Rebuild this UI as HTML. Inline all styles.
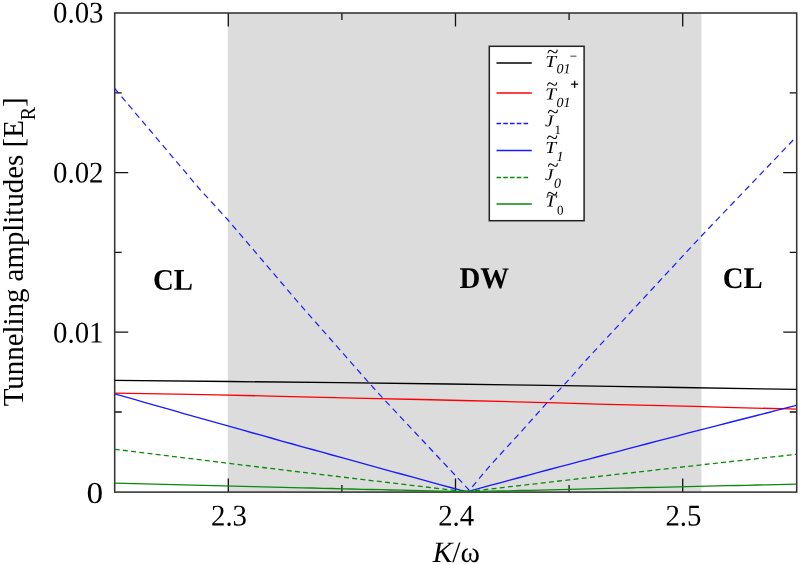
<!DOCTYPE html>
<html lang="en">
<head>
<meta charset="utf-8">
<title>Tunneling amplitudes</title>
<style>
html,body{margin:0;padding:0;background:#fff;}
body{width:800px;height:565px;overflow:hidden;}
svg text{white-space:pre;}
</style>
</head>
<body>
<svg width="800" height="565" viewBox="0 0 800 565" style="display:block">
<rect x="0" y="0" width="800" height="565" fill="#fff"/>
<rect x="227.8" y="13.0" width="473.6" height="479.1" fill="#dcdcdc"/>
<path d="M228.3 492.1 V478.6 M228.3 13.0 V26.5 M455.5 492.1 V478.6 M455.5 13.0 V26.5 M682.7 492.1 V478.6 M682.7 13.0 V26.5 M341.9 492.1 V485.1 M341.9 13.0 V20.0 M569.1 492.1 V485.1 M569.1 13.0 V20.0 M114.7 332.2 H128.2 M796.75 332.2 H783.25 M114.7 172.6 H128.2 M796.75 172.6 H783.25 M114.7 412.0 H121.7 M796.75 412.0 H789.75 M114.7 252.4 H121.7 M796.75 252.4 H789.75 M114.7 92.8 H121.7 M796.75 92.8 H789.75" stroke="#111" stroke-width="1.3" fill="none"/>
<rect x="114.7" y="13.0" width="682.0" height="479.1" fill="none" stroke="#333" stroke-width="1.55"/>
<g fill="none" stroke-width="1.3" stroke-linejoin="round">
<polyline points="114.7,380.4 229.9,381.5 338.9,382.7 448.4,384.0 530.0,385.1 612.3,386.3 680.5,387.5 762.0,388.8 796.6,389.4" stroke="#000"/>
<polyline points="114.7,393.1 161.6,393.9 216.8,394.9 271.2,396.1 311.4,397.2 365.7,398.4 420.4,399.5 461.9,400.5 515.9,401.8 557.0,402.9 598.0,404.1 638.8,405.1 694.5,406.4 735.0,407.6 790.0,408.9 796.6,409.1" stroke="#ff0000"/>
<polyline points="114.7,88.5 200.0,189.5 228.0,220.0 300.0,304.5 369.3,383.2 383.2,398.5 408.0,424.9 469.3,490.3 490.1,465.5 520.2,432.7 547.5,402.2 563.6,385.5 586.2,360.0 701.4,236.0 796.6,136.5" stroke="#1a1aff" stroke-width="1.2" stroke-dasharray="6.2 4.4"/>
<polyline points="114.7,393.8 124.6,396.6 134.5,399.4 144.3,402.3 154.2,405.1 164.1,407.9 174.0,410.7 183.8,413.5 193.7,416.3 203.6,419.1 213.5,421.9 223.4,424.6 233.2,427.4 243.1,430.2 253.0,433.0 262.9,435.7 272.8,438.5 282.6,441.3 292.5,444.0 302.4,446.8 312.3,449.5 322.1,452.2 332.0,455.0 341.9,457.7 351.8,460.4 361.7,463.2 371.5,465.9 381.4,468.6 391.3,471.3 401.2,474.0 411.0,476.7 420.9,479.4 430.8,482.1 440.7,484.8 450.6,487.5 460.4,490.2 466.5,491.3 470.3,490.8 480.2,488.1 490.1,485.4 500.0,482.8 509.8,480.1 519.7,477.5 529.6,474.8 539.5,472.2 549.3,469.5 559.2,466.9 569.1,464.3 579.0,461.7 588.9,459.1 598.7,456.5 608.6,453.9 618.5,451.3 628.4,448.7 638.2,446.1 648.1,443.5 658.0,440.9 667.9,438.3 677.8,435.8 687.6,433.2 697.5,430.7 707.4,428.1 717.3,425.6 727.2,423.0 737.0,420.5 746.9,418.0 756.8,415.5 766.7,413.0 776.5,410.4 786.4,407.9 796.3,405.4" stroke="#1a1aff"/>
<polyline points="114.7,449.3 124.6,450.5 134.5,451.7 144.3,452.9 154.2,454.2 164.1,455.4 174.0,456.6 183.8,457.8 193.7,459.0 203.6,460.2 213.5,461.4 223.4,462.7 233.2,463.9 243.1,465.1 253.0,466.3 262.9,467.5 272.8,468.7 282.6,469.9 292.5,471.1 302.4,472.3 312.3,473.4 322.1,474.6 332.0,475.8 341.9,477.0 351.8,478.2 361.7,479.4 371.5,480.6 381.4,481.7 391.3,482.9 401.2,484.1 411.0,485.3 420.9,486.4 430.8,487.6 440.7,488.8 450.6,489.9 460.4,491.1 466.5,491.3 470.3,491.3 480.2,490.2 490.1,489.0 500.0,487.9 509.8,486.7 519.7,485.6 529.6,484.4 539.5,483.3 549.3,482.1 559.2,481.0 569.1,479.9 579.0,478.7 588.9,477.6 598.7,476.5 608.6,475.3 618.5,474.2 628.4,473.1 638.2,472.0 648.1,470.8 658.0,469.7 667.9,468.6 677.8,467.5 687.6,466.4 697.5,465.3 707.4,464.2 717.3,463.1 727.2,462.0 737.0,460.9 746.9,459.8 756.8,458.7 766.7,457.6 776.5,456.5 786.4,455.4 796.3,454.3" stroke="#0a8a0a" stroke-dasharray="5 3.25"/>
<polyline points="114.7,483.1 124.6,483.4 134.5,483.6 144.3,483.9 154.2,484.1 164.1,484.4 174.0,484.6 183.8,484.9 193.7,485.1 203.6,485.4 213.5,485.6 223.4,485.8 233.2,486.1 243.1,486.3 253.0,486.6 262.9,486.8 272.8,487.1 282.6,487.3 292.5,487.6 302.4,487.8 312.3,488.0 322.1,488.3 332.0,488.5 341.9,488.8 351.8,489.0 361.7,489.3 371.5,489.5 381.4,489.7 391.3,490.0 401.2,490.2 411.0,490.5 420.9,490.7 430.8,490.9 440.7,491.2 450.6,491.3 460.4,491.3 466.5,491.3 470.3,491.3 480.2,491.3 490.1,491.2 500.0,491.0 509.8,490.8 519.7,490.5 529.6,490.3 539.5,490.1 549.3,489.8 559.2,489.6 569.1,489.4 579.0,489.1 588.9,488.9 598.7,488.7 608.6,488.4 618.5,488.2 628.4,488.0 638.2,487.7 648.1,487.5 658.0,487.3 667.9,487.1 677.8,486.8 687.6,486.6 697.5,486.4 707.4,486.2 717.3,485.9 727.2,485.7 737.0,485.5 746.9,485.3 756.8,485.0 766.7,484.8 776.5,484.6 786.4,484.4 796.3,484.1" stroke="#0a8a0a"/>
</g>
<g font-family="'Liberation Serif', serif" font-size="30" fill="#000">
<text transform="translate(103.5,22.5) rotate(0.03) scale(0.96,1)" text-anchor="end">0.03</text>
<text transform="translate(103.5,182.5) rotate(0.03) scale(0.96,1)" text-anchor="end">0.02</text>
<text transform="translate(103.5,342.5) rotate(0.03) scale(0.96,1)" text-anchor="end">0.01</text>
<text transform="translate(103.0,503.1) rotate(0.03) scale(1.09,1)" text-anchor="end" font-size="30.5">0</text>
<text transform="translate(229.0,525.6) rotate(0.03) scale(0.96,1)" text-anchor="middle">2.3</text>
<text transform="translate(456.2,525.6) rotate(0.03) scale(0.96,1)" text-anchor="middle">2.4</text>
<text transform="translate(683.4,525.6) rotate(0.03) scale(0.96,1)" text-anchor="middle">2.5</text>
<text transform="translate(456.3,562) rotate(0.03) scale(1,1)" text-anchor="middle" font-size="29.5"><tspan font-style="italic">K</tspan>/ω</text>
<text transform="translate(23.2,406.3) rotate(-90) scale(0.963,1)">Tunneling amplitudes [E<tspan font-size="20.5" dy="12">R</tspan><tspan dy="-12">]</tspan></text>
<g font-weight="bold">
<text transform="translate(173,289.8) rotate(0.03) scale(0.96,1)" text-anchor="middle">CL</text>
<text transform="translate(484.2,287.9) rotate(0.03) scale(0.96,1)" text-anchor="middle">DW</text>
<text transform="translate(742.8,288.1) rotate(0.03) scale(0.96,1)" text-anchor="middle">CL</text>
</g>
</g>
<rect x="489.3" y="46.3" width="94.8" height="174.4" fill="#fff" stroke="#222" stroke-width="1.5"/>
<g fill="none" stroke-width="1.3">
<path d="M496.5 63 H531.8" stroke="#000"/>
<path d="M496.5 93 H531.8" stroke="#ff0000"/>
<path d="M496.5 123.5 H529" stroke="#1a1aff" stroke-dasharray="4.6 2.15"/>
<path d="M496.5 150.5 H531.8" stroke="#1a1aff"/>
<path d="M496.5 177.5 H529" stroke="#0a8a0a" stroke-dasharray="4.6 2.15"/>
<path d="M496.5 204 H531.8" stroke="#0a8a0a"/>
</g>
<g font-family="'Liberation Serif', serif" fill="#000">
<text transform="translate(545.2,66.9) rotate(0.03) scale(1.15,1)" font-size="17" font-style="italic">T</text>
<text transform="translate(546.9,58.5) rotate(0.03) scale(1.0,1)" font-size="21">~</text>
<text transform="translate(556.5,73.3) rotate(0.03) scale(1.0,1)" font-size="14" font-style="italic">01</text>
<text transform="translate(569.7,60.6) rotate(0.03) scale(1.0,1)" font-size="13">−</text>
<text transform="translate(545.2,99.5) rotate(0.03) scale(1.15,1)" font-size="17" font-style="italic">T</text>
<text transform="translate(546.5,90.9) rotate(0.03) scale(1.0,1)" font-size="21">~</text>
<text transform="translate(556.5,107.1) rotate(0.03) scale(1.0,1)" font-size="14" font-style="italic">01</text>
<text transform="translate(570.6,88.9) rotate(0.03) scale(1.0,1)" font-size="14" font-family="'Liberation Sans', sans-serif" stroke="#000" stroke-width="0.3">+</text>
<text transform="translate(545.0,126.2) rotate(0.03) scale(1.14,1)" font-size="16.5" font-style="italic">J</text>
<text transform="translate(547.3,118.5) rotate(0.03) scale(1.0,1)" font-size="21">~</text>
<text transform="translate(554.5,134.1) rotate(0.03) scale(1.0,1)" font-size="13">1</text>
<text transform="translate(545.2,153.1) rotate(0.03) scale(1.15,1)" font-size="17" font-style="italic">T</text>
<text transform="translate(546.5,144.3) rotate(0.03) scale(1.0,1)" font-size="21">~</text>
<text transform="translate(556.5,161.0) rotate(0.03) scale(1.0,1)" font-size="14" font-style="italic">1</text>
<text transform="translate(545.0,180.0) rotate(0.03) scale(1.14,1)" font-size="16.5" font-style="italic">J</text>
<text transform="translate(547.3,172.1) rotate(0.03) scale(1.0,1)" font-size="21">~</text>
<text transform="translate(554.0,187.7) rotate(0.03) scale(1.0,1)" font-size="14" font-style="italic">0</text>
<text transform="translate(545.2,206.5) rotate(0.03) scale(1.15,1)" font-size="17" font-style="italic">T</text>
<text transform="translate(546.5,200.5) rotate(0.03) scale(1.0,1)" font-size="21">~</text>
<text transform="translate(556.9,214.6) rotate(0.03) scale(1.0,1)" font-size="13">0</text>
</g>
</svg>
</body>
</html>
